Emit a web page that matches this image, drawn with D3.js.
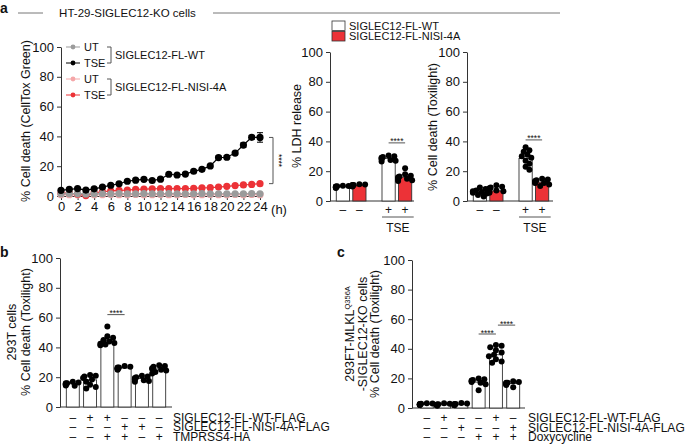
<!DOCTYPE html>
<html>
<head>
<meta charset="utf-8">
<script src="https://cdn.jsdelivr.net/npm/d3@7"></script>
<style>
    body { margin: 0; background: #fff; }
    svg { font-family: 'Liberation Sans', Arial, sans-serif; }
    .axis path, .axis line { stroke: #333; stroke-width: 1; }
    .axis text { font-size: 13px; fill: #111; font-family: 'Liberation Sans', Arial, sans-serif; }
</style>
</head>
<body>
<svg id="fig" width="685" height="447"></svg>
<script>
// ---- data ----
const yTicks = [0, 20, 40, 60, 80, 100];

// a: time course, % cell death (CellTox Green)
const hours = [0, 1, 2, 3, 4, 5, 6, 7, 8, 9, 10, 11, 12, 13, 14, 15, 16, 17, 18, 19, 20, 21, 22, 23, 24];
const hourTicks = [0, 2, 4, 6, 8, 10, 12, 14, 16, 18, 20, 22, 24];
const wtUT = [1.5, 1.6, 1.6, 1.4, 1.5, 1.6, 1.5, 1.6, 1.5, 1.5, 1.6, 1.5, 1.5, 1.6, 1.5, 1.5, 1.5, 1.6, 1.5, 1.5, 1.5, 1.5, 1.5, 1.6, 1.5];
const wtTSE = [3.8, 4.5, 5.0, 4.0, 4.8, 6.0, 7.2, 8.2, 9.9, 10.6, 11.2, 10.4, 11.3, 14.6, 14.1, 14.7, 16.6, 17.9, 20.2, 25.8, 26.0, 28.8, 34.2, 39.4, 39.3];
const wtTSEsd = [0.4, 0.4, 0.4, 0.4, 0.4, 0.5, 0.5, 0.5, 0.6, 0.6, 0.6, 0.6, 0.6, 0.7, 0.7, 0.7, 0.8, 0.8, 0.9, 1.0, 1.0, 1.1, 1.5, 1.3, 3.2];
const nisiUT = [0.9, 0.9, 0.8, 0.8, 0.9, 0.9, 1.0, 0.9, 0.9, 1.0, 0.9, 0.9, 1.0, 0.9, 0.9, 1.0, 0.9, 0.9, 1.0, 0.9, 0.9, 1.0, 0.9, 1.0, 0.9];
const nisiTSE = [2.0, 2.0, 1.2, 0.3, 2.2, 2.8, 3.4, 3.8, 4.0, 4.4, 4.6, 4.8, 4.9, 5.0, 5.0, 5.0, 5.1, 5.4, 5.6, 6.0, 6.5, 7.0, 7.4, 7.8, 8.3];
const legendA = ['UT', 'TSE', 'UT', 'TSE'];
const legendGroups = ['SIGLEC12-FL-WT', 'SIGLEC12-FL-NISI-4A'];

// a: LDH release / Toxilight bars
const groupsA = ['UT', 'TSE'];
const linesA = ['SIGLEC12-FL-WT', 'SIGLEC12-FL-NISI-4A'];
const tseSigns = ['–', '–', '+', '+'];
const ldhMeans = [9.6, 10.5, 28.6, 16.0];
const ldhReps = [
    [9.0, 9.5, 10.0, 9.2, 8.8, 10.2, 9.7, 9.4, 9.9],
    [10.0, 10.8, 11.0, 10.3, 9.8, 11.2, 10.5, 10.7, 10.1],
    [28.0, 29.5, 30.5, 27.0, 28.8, 26.5, 29.0, 30.0, 27.5],
    [22.0, 18.0, 17.0, 16.0, 15.5, 15.0, 14.5, 14.0, 13.5, 16.5]
];
const toxMeans = [5.6, 6.8, 28.5, 12.6];
const toxReps = [
    [4.0, 5.0, 6.0, 7.0, 8.0, 9.0, 5.5, 3.0, 6.5],
    [5.5, 6.0, 6.5, 7.0, 8.0, 8.5, 9.0, 9.5, 10.5],
    [36.0, 34.0, 33.0, 31.0, 29.0, 27.0, 25.0, 23.0, 21.0, 30.0],
    [15.0, 14.5, 14.0, 13.5, 13.0, 12.5, 12.0, 11.0, 10.0, 12.0]
];

// b: 293T cells
const bMeans = [15.6, 18.2, 45.0, 26.2, 19.1, 25.6];
const bReps = [
    [17.0, 16.5, 16.0, 15.5, 15.0, 14.5, 16.0, 15.2, 14.2],
    [21.5, 21.0, 20.5, 19.5, 18.5, 17.0, 15.0, 13.5, 12.5],
    [54.0, 47.5, 46.5, 45.0, 44.0, 43.0, 42.5, 42.0, 41.5],
    [27.5, 27.0, 26.5, 26.0, 26.0, 25.5, 25.0, 25.5, 26.5],
    [21.0, 20.5, 20.0, 19.5, 19.0, 18.5, 18.0, 17.5, 17.0],
    [28.0, 27.5, 27.0, 26.0, 25.5, 25.0, 24.5, 23.5, 22.5]
];
const bRowLabels = ['SIGLEC12-FL-WT-FLAG', 'SIGLEC12-FL-NISI-4A-FLAG', 'TMPRSS4-HA'];
const bRows = [
    ['–', '+', '+', '–', '–', '–'],
    ['–', '–', '–', '+', '+', '–'],
    ['–', '–', '+', '+', '–', '+']
];

// c: 293FT-MLKL Q356A SIGLEC12-KO cells
const cMeans = [2.5, 2.2, 2.5, 17.5, 36.0, 16.5];
const cReps = [
    [3.2, 3.0, 2.8, 2.5, 2.3, 2.1, 2.0, 2.7, 2.4],
    [3.2, 2.8, 2.5, 2.2, 2.0, 1.8, 1.6, 2.4, 2.1],
    [3.4, 3.0, 2.7, 2.5, 2.2, 2.0, 1.8, 2.6, 2.3],
    [20.0, 19.5, 19.0, 18.5, 18.0, 17.5, 17.0, 16.0, 12.0],
    [42.5, 42.0, 41.0, 39.0, 37.5, 36.0, 35.0, 33.0, 31.5, 30.5],
    [18.0, 17.5, 17.0, 17.0, 16.5, 16.5, 16.0, 15.5, 14.0]
];
const cRowLabels = ['SIGLEC12-FL-WT-FLAG', 'SIGLEC12-FL-NISI-4A-FLAG', 'Doxycycline'];
const cRows = [
    ['–', '+', '–', '–', '+', '–'],
    ['–', '–', '+', '–', '–', '+'],
    ['–', '–', '–', '+', '+', '+']
];

// ---- styles ----
const red = '#ec3237';
const pink = '#f5a6a8';
const grey = '#9b9b9b';
const ink = '#111';

const svg = d3.select('#fig');

function label(x, y, txt, size, opts = {}) {
    return svg.append('text')
        .attr('x', x)
        .attr('y', y)
        .attr('font-size', size)
        .attr('fill', opts.fill || ink)
        .attr('font-weight', opts.bold ? 'bold' : null)
        .style('text-anchor', opts.anchor || 'start')
        .text(txt);
}

function yLabel(x, y, txt, size) {
    return svg.append('text')
        .attr('transform', `translate(${x}, ${y}) rotate(-90)`)
        .attr('dy', '0.35em')
        .attr('font-size', size)
        .attr('fill', ink)
        .style('text-anchor', 'middle')
        .text(txt);
}

function stars(x1, x2, y) {
    svg.append('line')
        .attr('x1', x1).attr('x2', x2).attr('y1', y).attr('y2', y)
        .attr('stroke', '#555').attr('stroke-width', 1);
    label((x1 + x2) / 2, y + 1.5, '****', 8.5, {anchor: 'middle'});
}

// spread replicate dots sideways where they overlap
function swarm(vals, y, r) {
    const pts = vals.map(v => ({v: v, py: y(v)})).sort((a, b) => a.py - b.py);
    const placed = [];
    pts.forEach(p => {
        let off = 0;
        for (let k = 0; k < 9; k++) {
            const cand = k === 0 ? 0 : (k % 2 ? 1 : -1) * Math.ceil(k / 2) * 1.9;
            off = cand;
            if (placed.every(q => Math.hypot(q.dx - cand, q.py - p.py) >= r * 1.5)) break;
        }
        p.dx = off;
        placed.push(p);
    });
    return placed;
}

function yAxis(x, yScale) {
    svg.append('g')
        .attr('class', 'axis')
        .attr('transform', `translate(${x}, 0)`)
        .call(d3.axisLeft(yScale).tickValues(yTicks).tickSize(4).tickPadding(3).tickSizeOuter(0));
}

function barPanel(cfg) {
    const y = d3.scaleLinear().domain([0, 100]).range([cfg.y0, cfg.y1]);
    yAxis(cfg.axisX, y);
    svg.append('line')
        .attr('x1', cfg.axisX).attr('x2', cfg.axisEnd)
        .attr('y1', y(0)).attr('y2', y(0))
        .attr('stroke', '#333');

    cfg.means.forEach((m, i) => {
        const x0 = cfg.barX(i);
        const w = cfg.bw;
        svg.append('rect')
            .attr('x', x0)
            .attr('y', y(m))
            .attr('width', w)
            .attr('height', y(0) - y(m))
            .attr('fill', cfg.fills[i])
            .attr('stroke', '#333')
            .attr('stroke-width', 0.9);

        svg.selectAll(null)
            .data(swarm(cfg.reps[i], y, 3))
            .join('circle')
            .attr('cx', d => x0 + w / 2 + Math.max(-7, Math.min(7, d.dx)))
            .attr('cy', d => d.py)
            .attr('r', 3)
            .attr('fill', '#000');
    });
    return y;
}

// ---- panel letters / title ----
label(0, 12.5, 'a', 14, {bold: true});
label(0, 257, 'b', 14, {bold: true});
label(337, 257, 'c', 14, {bold: true});

label(127.5, 17, 'HT-29-SIGLEC12-KO cells', 11.5, {anchor: 'middle'});
svg.append('line').attr('x1', 18).attr('x2', 43).attr('y1', 13).attr('y2', 13).attr('stroke', '#777');
svg.append('line').attr('x1', 213).attr('x2', 560).attr('y1', 13).attr('y2', 13).attr('stroke', '#777');

// ---- a: time course ----
const xA = d3.scaleLinear().domain([0, 24]).range([61, 260]);
const yA = d3.scaleLinear().domain([0, 100]).range([196, 47]);

yAxis(61, yA);
svg.append('g')
    .attr('class', 'axis')
    .attr('transform', `translate(0, 196)`)
    .call(d3.axisBottom(xA).tickValues(hourTicks).tickSize(4).tickPadding(2).tickSizeOuter(0));
label(279, 214, '(h)', 13, {anchor: 'middle'});
yLabel(26, 121, '% Cell death (CellTox Green)', 12.5);

const seriesA = [
    {vals: nisiUT, color: pink},
    {vals: nisiTSE, color: red, sd: nisiTSE.map(() => 0.4)},
    {vals: wtUT, color: grey},
    {vals: wtTSE, color: '#000', sd: wtTSEsd}
];
const lineGen = d3.line().x((d, i) => xA(hours[i])).y(d => yA(d));

seriesA.forEach(s => {
    svg.append('path')
        .datum(s.vals)
        .attr('d', lineGen)
        .attr('fill', 'none')
        .attr('stroke', s.color)
        .attr('stroke-width', 1.2);
    if (s.sd) {
        svg.selectAll(null)
            .data(s.vals.map((v, i) => ({h: hours[i], v: v, sd: s.sd[i]})).filter(d => d.sd > 0.9))
            .join('path')
            .attr('d', d => `M${xA(d.h) - 3},${yA(d.v + d.sd)}h6M${xA(d.h)},${yA(d.v + d.sd)}V${yA(d.v - d.sd)}M${xA(d.h) - 3},${yA(d.v - d.sd)}h6`)
            .attr('stroke', s.color)
            .attr('fill', 'none');
    }
    svg.selectAll(null)
        .data(s.vals)
        .join('circle')
        .attr('cx', (d, i) => xA(hours[i]))
        .attr('cy', d => yA(d))
        .attr('r', 3.6)
        .attr('fill', s.color);
});

// legend
const legColors = [grey, '#000', pink, red];
legendA.forEach((t, i) => {
    const ly = 47 + i * 16;
    svg.append('line').attr('x1', 66).attr('x2', 80).attr('y1', ly).attr('y2', ly)
        .attr('stroke', legColors[i]).attr('stroke-width', 1);
    svg.append('circle').attr('cx', 73).attr('cy', ly).attr('r', 2.4).attr('fill', legColors[i]);
    label(84, ly + 3.8, t, 11);
});
legendGroups.forEach((t, j) => {
    const top = 47 + j * 32, bot = top + 16;
    svg.append('path')
        .attr('d', `M107,${top}H111V${bot}H107`)
        .attr('fill', 'none').attr('stroke', '#555');
    label(115, (top + bot) / 2 + 3.8, t, 11);
});

// significance bracket (24 h)
svg.append('path')
    .attr('d', `M269,${yA(wtTSE[24])}H273V${yA(nisiTSE[24])}H269`)
    .attr('fill', 'none').attr('stroke', '#555');
svg.append('text')
    .attr('transform', `translate(276, ${(yA(wtTSE[24]) + yA(nisiTSE[24])) / 2}) rotate(90)`)
    .attr('font-size', 8.5)
    .style('text-anchor', 'middle')
    .text('****');

// ---- a: bar charts ----
function groupedX(r0, r1) {
    const outer = d3.scaleBand().domain(groupsA).range([r0, r1]).paddingInner(0.35).paddingOuter(0.05);
    const inner = d3.scaleBand().domain(linesA).range([0, outer.bandwidth()]).paddingInner(0.2);
    return {
        x: i => outer(groupsA[Math.floor(i / 2)]) + inner(linesA[i % 2]),
        bw: inner.bandwidth(),
        outer: outer
    };
}
const fillsA = ['#fff', red, '#fff', red];

const ldhX = groupedX(334, 414);
const yLdh = barPanel({axisX: 330, axisEnd: 414, y0: 201, y1: 52, barX: ldhX.x, bw: ldhX.bw,
    means: ldhMeans, reps: ldhReps, fills: fillsA});
yLabel(297, 126, '% LDH release', 12.5);

const toxX = groupedX(471, 551);
const yTox = barPanel({axisX: 467, axisEnd: 553, y0: 201, y1: 52, barX: toxX.x, bw: toxX.bw,
    means: toxMeans, reps: toxReps, fills: fillsA});
yLabel(433, 127, '% Cell death (Toxilight)', 12.5);

[[ldhX, yLdh], [toxX, yTox]].forEach(([bx, y], k) => {
    tseSigns.forEach((s, i) => label(bx.x(i) + bx.bw / 2, 214, s, 12, {anchor: 'middle'}));
    const g0 = bx.outer('TSE');
    svg.append('line').attr('x1', g0).attr('x2', g0 + bx.outer.bandwidth() + 2)
        .attr('y1', 217).attr('y2', 217).attr('stroke', '#555');
    label(g0 + bx.outer.bandwidth() / 2 + 1, 232, 'TSE', 12, {anchor: 'middle'});
    stars(bx.x(2) + bx.bw / 2, bx.x(3) + bx.bw / 2, y(k === 0 ? 39 : 41));
});

// legend for bars
linesA.forEach((t, i) => {
    svg.append('rect').attr('x', 332).attr('y', 21 + i * 10.5).attr('width', 13).attr('height', 9.5)
        .attr('fill', fillsA[i]).attr('stroke', '#333').attr('stroke-width', 0.8);
    label(349, 29.5 + i * 10.5, t, 11);
});

// ---- b ----
const bx = d3.scaleBand().domain(d3.range(bMeans.length)).range([62, 170]).paddingInner(0.25).paddingOuter(0.25);
const yB = barPanel({axisX: 60, axisEnd: 172, y0: 407, y1: 258, barX: i => bx(i), bw: bx.bandwidth(),
    means: bMeans, reps: bReps, fills: bMeans.map(() => '#fff')});
yLabel(11.5, 332, '293T cells', 12.5);
yLabel(26, 332, '% Cell death (Toxilight)', 12.5);
stars(bx(2) + bx.bandwidth() / 2, bx(3) + bx.bandwidth() / 2, yB(62));
bRows.forEach((row, r) => {
    const by = 421.5 + r * 9.6;
    row.forEach((s, i) => label(bx(i) + bx.bandwidth() / 2, by, s, 12, {anchor: 'middle'}));
    label(173, by, bRowLabels[r], 12);
});

// ---- c ----
const cx = d3.scaleBand().domain(d3.range(cMeans.length)).range([416, 524]).paddingInner(0.25).paddingOuter(0.25);
const yC = barPanel({axisX: 412, axisEnd: 525, y0: 408, y1: 260, barX: i => cx(i), bw: cx.bandwidth(),
    means: cMeans, reps: cReps, fills: cMeans.map(() => '#fff')});
const cl = svg.append('text')
    .attr('transform', `translate(350, 334) rotate(-90)`)
    .attr('dy', '0.35em')
    .attr('font-size', 12.5)
    .attr('fill', ink)
    .style('text-anchor', 'middle');
cl.append('tspan').text('293FT-MLKL');
cl.append('tspan').attr('font-size', 7.5).attr('dy', '-0.6em').text('Q356A');
yLabel(362.5, 334, '-SIGLEC12-KO cells', 12.5);
yLabel(375, 334, '% Cell death (Toxilight)', 12.5);
stars(cx(3) + cx.bandwidth() / 2, cx(4) + cx.bandwidth() / 2, yC(50));
stars(cx(4) + cx.bandwidth() / 2 + 2, cx(5) + cx.bandwidth() / 2 + 2, yC(56));
cRows.forEach((row, r) => {
    const by = 422 + r * 9.6;
    row.forEach((s, i) => label(cx(i) + cx.bandwidth() / 2, by, s, 12, {anchor: 'middle'}));
    label(528, by, cRowLabels[r], 12);
});
</script>
</body>
</html>
